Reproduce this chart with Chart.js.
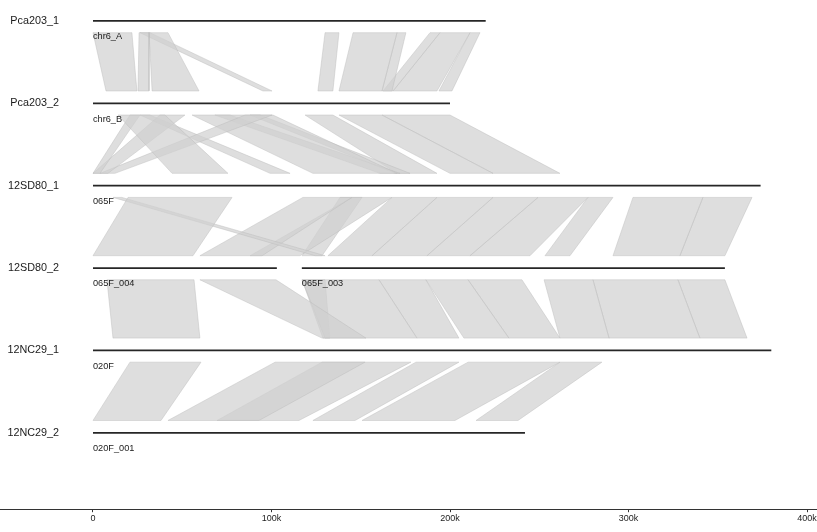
<!DOCTYPE html>
<html>
<head>
<meta charset="utf-8">
<script src="https://cdn.jsdelivr.net/npm/chart.js@4.4.1/dist/chart.umd.min.js"></script>
<style>
  html, body { margin: 0; padding: 0; background: #fff; }
  #wrap { width: 817px; height: 532px; }
</style>
</head>
<body>
<div id="wrap"><canvas id="synteny" width="817" height="532"></canvas></div>
<script>
// genomes (one track each, top to bottom)
const binNames = ["Pca203_1", "Pca203_2", "12SD80_1", "12SD80_2", "12NC29_1", "12NC29_2"];

// contigs, positions in kb
const seqNames = ["chr6_A", "chr6_B", "065F", "065F_004", "065F_003", "020F", "020F_001"];
const seqTrack = [0, 1, 2, 3, 3, 4, 5];
const seqStart = [0, 0, 0, 0, 117, 0, 0];
const seqEnd   = [220, 200, 374, 103, 354, 380, 242];

// links between track n and n+1 (kb)
const linkFrom     = [0,0,0,0,0,0,0,0,0,0,
                      1,1,1,1,1,1,1,1,1,1,1,
                      2,2,2,2,2,2,2,2,2,2,2,2,
                      3,3,3,3,3,3,3,3,3,3,
                      4,4,4,4,4,4];
const linkTopStart = [0,25.8,31.4,26.3,130.0,145.7,170.3,188.8,194.4,211.2,
                      14.0,20.7,37.5,85.2,26.3,55.5,68.3,88.0,118.8,137.8,161.9,
                      19.6,11.2,117.6,145.1,138.4,167.5,192.7,224.1,249.3,277.3,302.5,341.7,
                      7.8,59.9,117.1,117.1,160.2,186.5,210.1,252.7,280.1,327.7,
                      20.7,102.0,128.3,180.9,210.1,261.6];
const linkTopEnd   = [21.8,31.4,42.0,31.9,137.8,170.3,175.3,194.4,211.2,216.8,
                      40.3,26.3,51.5,100.3,31.9,100.8,76.7,93.6,134.4,161.9,200.0,
                      77.9,16.2,145.1,167.5,150.7,192.7,224.1,249.3,277.3,291.3,341.7,369.2,
                      56.6,102.5,160.2,130.0,186.5,210.1,240.3,280.1,327.7,354.0,
                      60.5,152.4,178.1,205.0,261.6,285.1];
const linkBotStart = [7.3,25.2,33.1,95.2,126.0,137.8,161.9,162.5,168.1,193.8,
                      44.3,0,0,3.9,99.2,123.2,160.8,169.2,170.3,200.0,224.1,
                      0,124.4,59.9,88.0,117.1,131.6,156.3,187.1,211.2,253.2,291.3,328.8,
                      11.2,128.3,130.0,128.8,181.5,207.8,233.0,261.6,289.1,340.0,
                      0,42.0,69.5,123.2,150.7,214.6];
const linkBotEnd   = [24.6,31.4,59.4,100.3,134.4,161.9,167.5,168.1,192.7,201.1,
                      75.6,3.9,8.4,12.3,110.4,170.3,172.0,177.6,192.7,224.1,261.6,
                      56.0,130.0,94.7,116.0,128.3,156.3,187.1,211.2,244.8,267.2,328.8,354.0,
                      59.9,152.9,181.5,132.7,205.0,233.0,261.6,289.1,340.0,366.4,
                      38.1,93.0,115.4,146.8,202.8,238.1];

const xTicks = [0, 100, 200, 300, 400];

const FONT = "'Liberation Sans', Arial, Helvetica, sans-serif";
const LINK_TOP = 0.142, LINK_BOT = 0.85;

const datasets = [];

// contig lines (first so they sit on top)
seqNames.forEach((name, i) => {
    datasets.push({
        data: [{ x: seqStart[i], y: seqTrack[i] }, { x: seqEnd[i], y: seqTrack[i] }],
        borderColor: "#262626",
        borderWidth: 1.7,
        pointRadius: 0,
        fill: false
    });
});

// link polygons
linkFrom.forEach((t, i) => {
    const yTop = t + LINK_TOP;
    const yBot = t + LINK_BOT;
    datasets.push({
        data: [
            { x: linkTopStart[i], y: yTop },
            { x: linkTopEnd[i], y: yTop },
            { x: linkBotEnd[i], y: yBot },
            { x: linkBotStart[i], y: yBot },
            { x: linkTopStart[i], y: yTop }
        ],
        borderColor: "rgba(185,185,185,0.55)",
        borderWidth: 0.8,
        backgroundColor: "rgba(208,208,208,0.7)",
        pointRadius: 0,
        tension: 0,
        fill: "shape"
    });
});

// names of genomes and contigs
const labelPlugin = {
    id: "labels",
    afterDatasetsDraw(chart) {
        const { ctx, scales: { x, y } } = chart;
        ctx.save();
        ctx.fillStyle = "#1a1a1a";
        ctx.textBaseline = "middle";

        ctx.font = "10.8px " + FONT;
        ctx.textAlign = "right";
        binNames.forEach((name, i) => {
            ctx.fillText(name, 59, y.getPixelForValue(i));
        });

        ctx.font = "9.2px " + FONT;
        ctx.textAlign = "left";
        seqNames.forEach((name, i) => {
            ctx.fillText(name, x.getPixelForValue(seqStart[i]), y.getPixelForValue(seqTrack[i]) + 15.7);
        });
        ctx.restore();
    }
};

new Chart(document.getElementById("synteny"), {
    type: "line",
    data: { datasets },
    options: {
        responsive: false,
        animation: false,
        layout: { padding: { left: 0, right: 0, top: 0, bottom: 7 } },
        plugins: {
            legend: { display: false },
            tooltip: { enabled: false }
        },
        scales: {
            x: {
                type: "linear",
                min: -52.1,
                max: 405.6,
                afterBuildTicks: s => { s.ticks = xTicks.map(v => ({ value: v })); },
                afterFit: s => { s.paddingLeft = 0; s.paddingRight = 0; },
                ticks: {
                    padding: 1,
                    color: "#222",
                    font: { size: 9, family: FONT },
                    maxRotation: 0,
                    autoSkip: false,
                    callback: v => (v === 0 ? "0" : v + "k")
                },
                grid: { drawOnChartArea: false, drawTicks: true, tickLength: 3, color: "#333" },
                border: { display: true, color: "#333", width: 1 }
            },
            y: {
                type: "linear",
                display: false,
                reverse: true,
                min: -0.2545,
                max: 5.927
            }
        }
    },
    plugins: [labelPlugin]
});
</script>
</body>
</html>
